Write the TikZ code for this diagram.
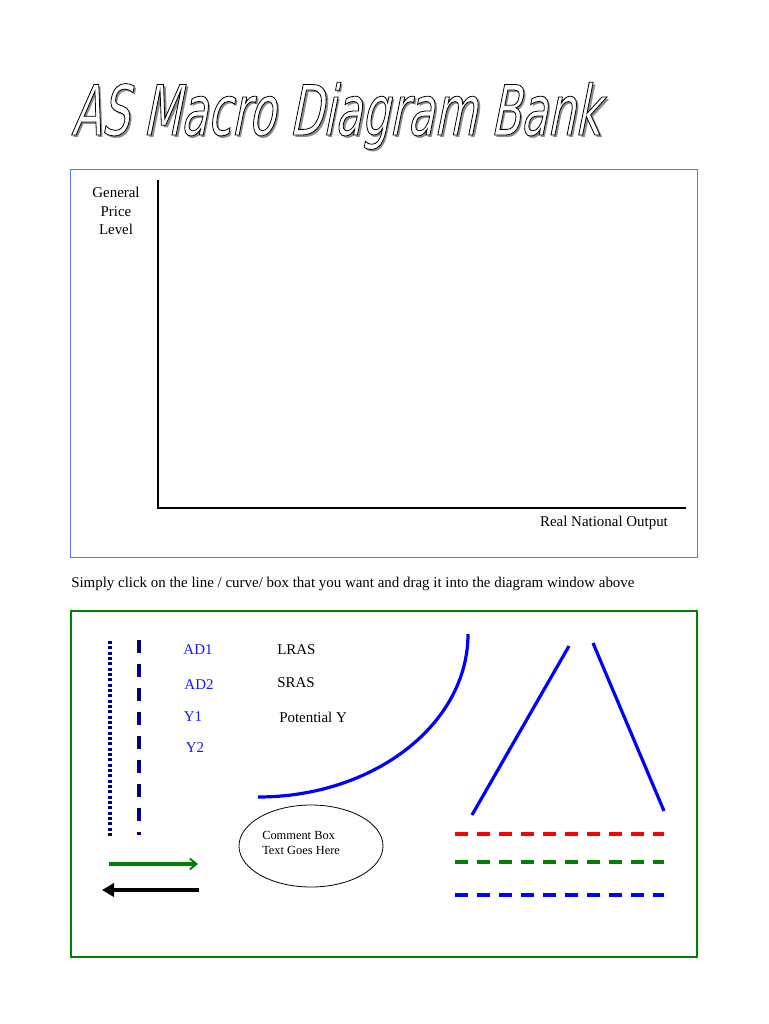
\documentclass[tikz,border=0pt]{standalone}
\usepackage{fontspec}
\setmainfont{Liberation Serif}
\newfontfamily\titlefont[FakeStretch=0.63,FakeSlant=0.2]{DejaVu Sans}
\usetikzlibrary{arrows.meta,shapes.geometric}
\definecolor{boxblue}{RGB}{90,120,255}
\definecolor{navyline}{RGB}{0,0,128}
\definecolor{lblblue}{RGB}{20,20,255}
\definecolor{boxgreen}{RGB}{0,128,0}
\newcommand{\titletext}{AS Macro Diagram Bank}
\tikzset{
  lbl/.style={font=\fontsize{11.2pt}{13pt}\selectfont, inner sep=0pt},
  bluelbl/.style={lbl, text=lblblue},
  axisline/.style={line width=2.2pt, black},
  curveline/.style={line width=2.4pt, blue},
  dashline/.style={line width=2.6pt, dash pattern=on 10pt off 6.5pt},
}
\begin{document}
\begin{tikzpicture}[x=0.75pt,y=-0.75pt]
\useasboundingbox (0,0) rectangle (768,1024);
% title (shadow + outlined text in one node)
\node[anchor=base west, inner sep=0pt] (title) at (71,135)
  {\titlefont\fontsize{52pt}{60pt}\selectfont\makebox[0pt][l]{\raisebox{-2.2pt}{\hspace{1.8pt}\textcolor{black!45}{\titletext}}}\special{pdf:literal direct 2 Tr 0.6 w 1 g}\titletext\special{pdf:literal direct 0 Tr 0 g}};
% top box
\draw[boxblue, line width=0.7pt] (70,169) rectangle (697,557);
\coordinate (ytop) at (158,180);
\coordinate (origin) at (158,508);
\coordinate (xend) at (686,508);
\draw[axisline] (ytop) -- (origin) -- (xend);
\node[lbl, align=center] (gpl) at (116,211) {General\\[1pt]Price\\[1pt]Level};
\node[lbl] (rno) at (604,523) {Real National Output};
\node[lbl, anchor=west] (instr) at (71,584) {Simply click on the line / curve/ box that you want and drag it into the diagram window above};
% bottom box
\draw[boxgreen, line width=1.8pt] (71,611) rectangle (697,957);
\coordinate (dotA) at (110,641);
\coordinate (dotB) at (110,837);
\draw[navyline, line width=2.4pt, dash pattern=on 2.2pt off 1.8pt] (dotA) -- (dotB);
\coordinate (dashA) at (139,640);
\coordinate (dashB) at (139,835);
\draw[navyline, line width=2.4pt, dash pattern=on 9.5pt off 8.5pt] (dashA) -- (dashB);
\node[bluelbl] (ad1) at (198,650) {AD1};
\node[bluelbl] (ad2) at (199,685) {AD2};
\node[bluelbl] (y1) at (193,717) {Y1};
\node[bluelbl] (y2) at (195,748) {Y2};
\node[lbl, anchor=west] (lras) at (277,650) {LRAS};
\node[lbl, anchor=west] (sras) at (277,683) {SRAS};
\node[lbl, anchor=west] (poty) at (279,717) {Potential Y};
% curve
\coordinate (cA) at (258,797);
\coordinate (cB) at (468,634);
\draw[curveline] (cA) .. controls (374,797) and (468,724) .. (cB);
% straight lines
\coordinate (l1a) at (472,815);
\coordinate (l1b) at (569,646);
\coordinate (l2a) at (593,643);
\coordinate (l2b) at (664,811);
\draw[curveline] (l1a) -- (l1b);
\draw[curveline] (l2a) -- (l2b);
% dashed horizontals
\coordinate (rA) at (455,834); \coordinate (rB) at (664,834);
\coordinate (gA) at (455,862); \coordinate (gB) at (664,862);
\coordinate (bA) at (455,895); \coordinate (bB) at (664,895);
\draw[dashline, red] (rA) -- (rB);
\draw[dashline, boxgreen] (gA) -- (gB);
\draw[dashline, blue] (bA) -- (bB);
% arrows
\coordinate (gaA) at (109,864); \coordinate (gaB) at (198,864);
\draw[boxgreen, line width=2.4pt, -{Straight Barb[length=5pt,width=8pt,line width=1.4pt]}] (gaA) -- (gaB);
\coordinate (baA) at (199,890); \coordinate (baB) at (102,890);
\draw[black, line width=3pt, -{Triangle[length=9pt,width=10pt]}] (baA) -- (baB);
% comment ellipse
\node[ellipse, draw, line width=0.6pt, minimum width=144*0.75pt, minimum height=82*0.75pt] (comment) at (311,846) {};
\node[font=\fontsize{9.3pt}{10.8pt}\selectfont, align=left, anchor=west, inner sep=0pt] (commenttext) at (262,843) {Comment Box\\Text Goes Here};
\end{tikzpicture}
\end{document}
